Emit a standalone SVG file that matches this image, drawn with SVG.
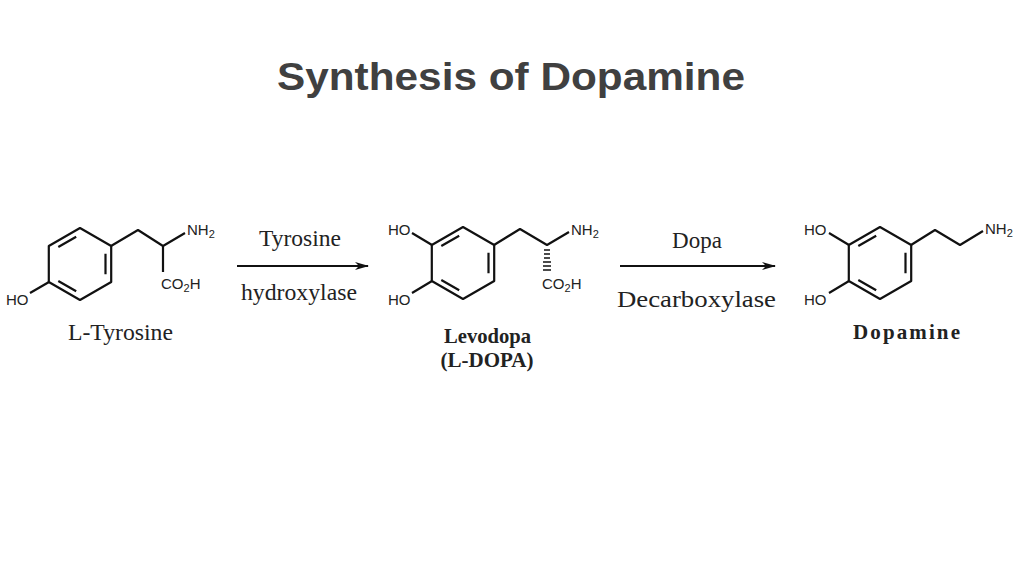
<svg xmlns="http://www.w3.org/2000/svg" xmlns:xlink="http://www.w3.org/1999/xlink" width="1024" height="576" viewBox="0 0 1024 576">
<style>
.b{stroke:#111;stroke-width:2.2;fill:none;stroke-linejoin:round}
.a{font-family:"Liberation Sans",Arial,sans-serif;font-size:15px;fill:#222}
.s{font-family:"Liberation Serif","Times New Roman",serif;font-size:23px;fill:#222}
.sb{font-family:"Liberation Serif","Times New Roman",serif;font-size:21px;font-weight:bold;fill:#222}
</style>
<defs>
<g id="ring">
<polygon class="b" points="0,-36 31.2,-18 31.2,18 0,36 -31.2,18 -31.2,-18"/>
<path class="b" d="M-3.8,-27.3 L-21.7,-17 M25.5,-10.3 L25.5,10.3 M-3.8,27.3 L-21.7,17"/>
</g>
<marker id="ah" markerWidth="14" markerHeight="10" refX="13" refY="5" orient="auto" markerUnits="userSpaceOnUse">
<path d="M0,1 L14,5 L0,9 L4,5 Z" fill="#111"/>
</marker>
</defs>
<rect width="1024" height="576" fill="#fff"/>
<text x="511" y="90" text-anchor="middle" font-family="'Liberation Sans',Arial,sans-serif" font-size="39" font-weight="bold" fill="#404040" textLength="468" lengthAdjust="spacingAndGlyphs">Synthesis of Dopamine</text>

<g id="tyrosine">
<use xlink:href="#ring" x="80" y="264"/>
<path class="b" d="M111,246 L138,230 L163,246 L185,233 M163,246 L163,272 M49,282 L30,293"/>
<text class="a" x="187" y="235">NH<tspan font-size="11" dy="3">2</tspan></text>
<text class="a" x="161" y="289">CO<tspan font-size="11" dy="3">2</tspan><tspan dy="-3">H</tspan></text>
<text class="a" x="6" y="305">HO</text>
<text class="s" x="68" y="340" textLength="105" lengthAdjust="spacingAndGlyphs">L-Tyrosine</text>
</g>

<g id="levodopa">
<use xlink:href="#ring" x="463" y="263"/>
<path class="b" d="M494,245 L520,229 L547,245 L569,232 M432,245 L412,233 M432,281 L412,293"/>
<path stroke="#111" stroke-width="1.4" d="M544,250 h6 M544,254 h6 M544,258 h6 M543,262 h8 M543,266 h8 M543,270 h8"/>
<text class="a" x="571" y="235">NH<tspan font-size="11" dy="3">2</tspan></text>
<text class="a" x="542" y="289">CO<tspan font-size="11" dy="3">2</tspan><tspan dy="-3">H</tspan></text>
<text class="a" x="388" y="235">HO</text>
<text class="a" x="388" y="305">HO</text>
<text class="sb" x="444" y="343" textLength="87" lengthAdjust="spacingAndGlyphs">Levodopa</text>
<text class="sb" x="487" y="367" text-anchor="middle">(L-DOPA)</text>
</g>

<g id="dopamine">
<use xlink:href="#ring" x="880" y="263"/>
<path class="b" d="M911,245 L935,230 L960,245 L983,231 M849,245 L829,233 M849,281 L829,293"/>
<text class="a" x="985" y="234">NH<tspan font-size="11" dy="3">2</tspan></text>
<text class="a" x="804" y="235">HO</text>
<text class="a" x="804" y="305">HO</text>
<text class="sb" x="853" y="339" textLength="107" lengthAdjust="spacing">Dopamine</text>
</g>

<g id="connectors">
<line class="b" x1="237" y1="266" x2="368" y2="266" stroke-width="2" marker-end="url(#ah)"/>
<text class="s" x="259" y="246" textLength="82" lengthAdjust="spacingAndGlyphs">Tyrosine</text>
<text class="s" x="241" y="300" textLength="116" lengthAdjust="spacingAndGlyphs">hydroxylase</text>
<line class="b" x1="620" y1="266" x2="775" y2="266" stroke-width="2" marker-end="url(#ah)"/>
<text class="s" x="697" y="248" text-anchor="middle">Dopa</text>
<text class="s" x="617" y="307" textLength="159" lengthAdjust="spacingAndGlyphs">Decarboxylase</text>
</g>
</svg>
